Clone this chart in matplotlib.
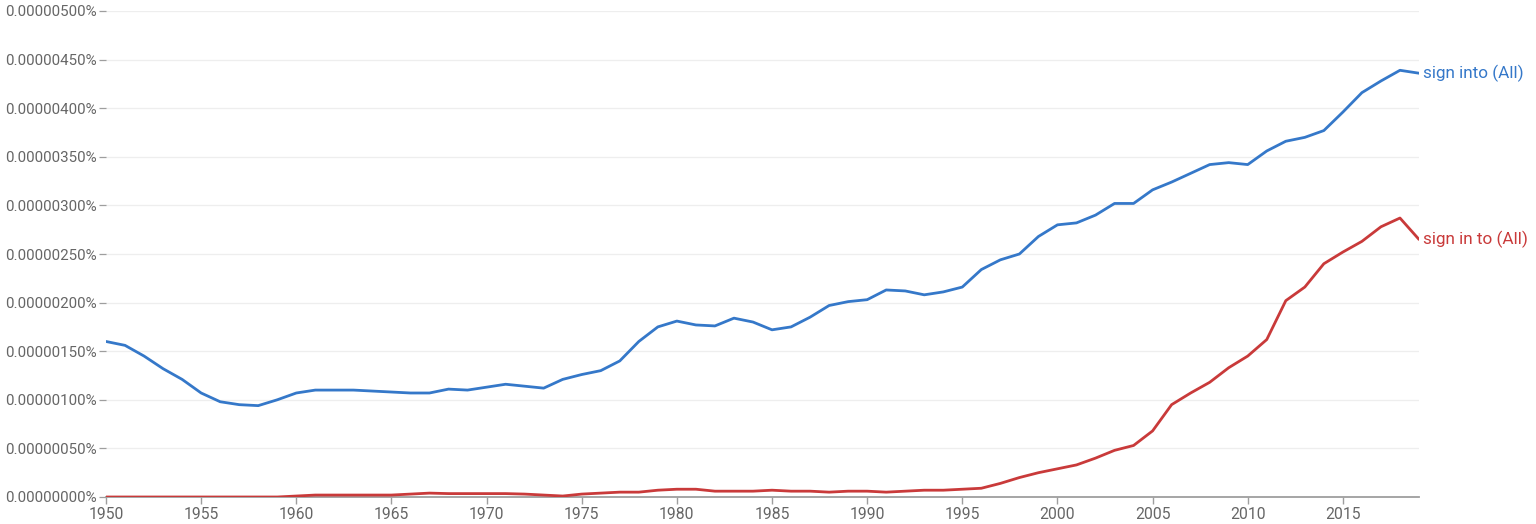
import matplotlib
matplotlib.use("Agg")
import matplotlib.pyplot as plt
from matplotlib.ticker import FuncFormatter, MultipleLocator

years = list(range(1950, 2020))

# values in units of 1e-6 percent
sign_into = [1.60, 1.56, 1.45, 1.32, 1.21, 1.07, 0.98, 0.95, 0.94, 1.00,
             1.07, 1.10, 1.10, 1.10, 1.09, 1.08, 1.07, 1.07, 1.11, 1.10,
             1.13, 1.16, 1.14, 1.12, 1.21, 1.26, 1.30, 1.40, 1.60, 1.75,
             1.81, 1.77, 1.76, 1.84, 1.80, 1.72, 1.75, 1.85, 1.97, 2.01,
             2.03, 2.13, 2.12, 2.08, 2.11, 2.16, 2.34, 2.44, 2.50, 2.68,
             2.80, 2.82, 2.90, 3.02, 3.02, 3.16, 3.24, 3.33, 3.42, 3.44,
             3.42, 3.56, 3.66, 3.70, 3.77, 3.96, 4.16, 4.28, 4.39, 4.36]

sign_in_to = [0.00, 0.00, 0.00, 0.00, 0.00, 0.00, 0.00, 0.00, 0.00, 0.00,
              0.01, 0.02, 0.02, 0.02, 0.02, 0.02, 0.03, 0.04, 0.035, 0.035,
              0.035, 0.035, 0.03, 0.02, 0.01, 0.03, 0.04, 0.05, 0.05, 0.07,
              0.08, 0.08, 0.06, 0.06, 0.06, 0.07, 0.06, 0.06, 0.05, 0.06,
              0.06, 0.05, 0.06, 0.07, 0.07, 0.08, 0.09, 0.14, 0.20, 0.25,
              0.29, 0.33, 0.40, 0.48, 0.53, 0.68, 0.95, 1.07, 1.18, 1.33,
              1.45, 1.62, 2.02, 2.16, 2.40, 2.52, 2.63, 2.78, 2.87, 2.65]

series_labels = ["sign into (All)", "sign in to (All)"]
series_colors = ["#3578c9", "#c93a3a"]

plt.rcParams['font.family'] = ['Roboto', 'DejaVu Sans']

fig = plt.figure(figsize=(15.36, 5.24), dpi=100)
ax = fig.add_axes([106/1536, 1-497/524, (1419-106)/1536, (497-11)/524])

for vals, lab, col in zip([sign_into, sign_in_to], series_labels, series_colors):
    ax.plot(years, vals, color=col, lw=2.0, solid_joinstyle='round', solid_capstyle='round', zorder=3)
    ax.annotate(lab, xy=(years[-1], vals[-1]), xytext=(3, 0), textcoords='offset points',
                color=col, fontsize=12.3, va='center', ha='left', annotation_clip=False)

ax.set_xlim(1950, 2019)
ax.set_ylim(0, 5.0)
ax.yaxis.set_major_locator(MultipleLocator(0.5))
ax.xaxis.set_major_locator(MultipleLocator(5))
ax.yaxis.set_major_formatter(FuncFormatter(lambda v, p: f"{v*1e-6:.8f}%"))

for s in ['top', 'right', 'left']:
    ax.spines[s].set_visible(False)
ax.spines['bottom'].set_color('#9e9e9e')
ax.spines['bottom'].set_linewidth(1.3)

ax.grid(axis='y', color='#eeeeee', lw=0.9, zorder=0)
ax.tick_params(axis='y', length=5, width=0.9, color='#9e9e9e', labelcolor='#666666',
               labelsize=10.9, pad=2)
ax.tick_params(axis='x', length=5, width=1.0, color='#9e9e9e', labelcolor='#666666',
               labelsize=11.3, pad=2)
ax.set_axisbelow(True)

fig.savefig("out.png", dpi=100)
